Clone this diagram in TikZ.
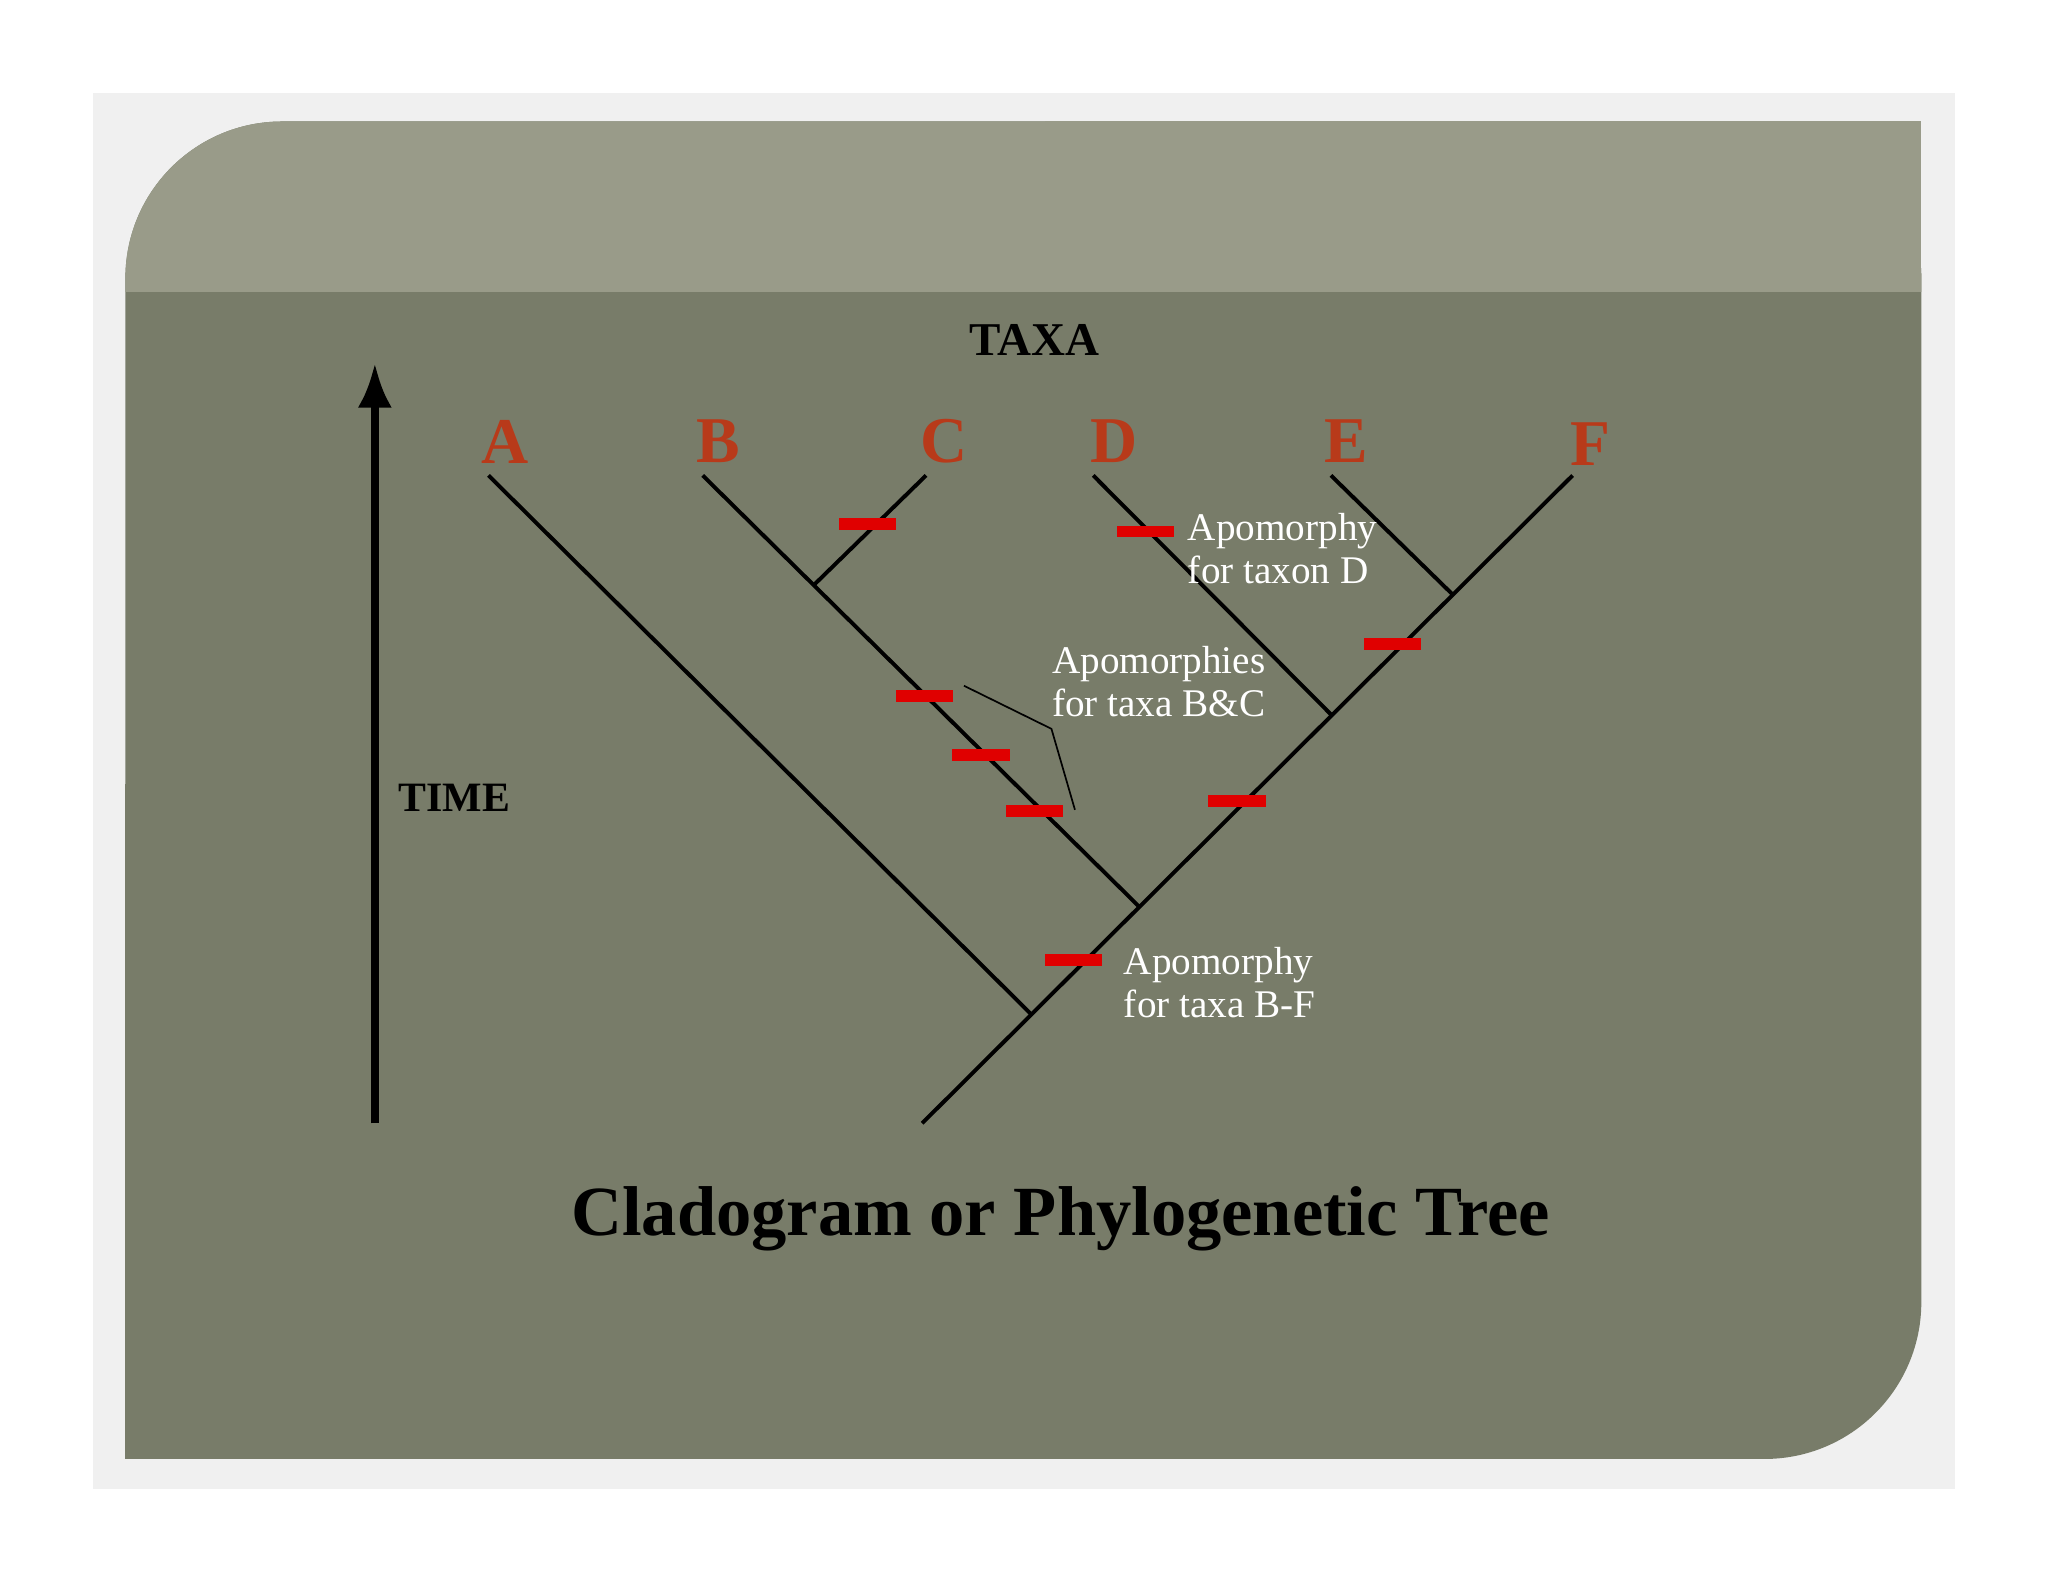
\documentclass[tikz,border=0pt]{standalone}
\usepackage{fontspec}
\setmainfont{Liberation Serif}
\usetikzlibrary{arrows.meta}
\definecolor{bgdark}{HTML}{787C69}
\definecolor{bgtop}{HTML}{999B89}
\definecolor{frame}{HTML}{F0F0F0}
\definecolor{taxred}{HTML}{B83A1A}
\definecolor{bar}{HTML}{E00000}
\tikzset{
 branch/.style={line width=3pt,black},
 taxon/.style={text=taxred,font=\fontsize{50}{50}\selectfont\bfseries},
 lab/.style={text=white,align=left,anchor=west,font=\fontsize{30}{33}\selectfont},
 redbar/.style={fill=bar,draw=none,minimum width=44pt,minimum height=9pt,inner sep=0pt},
 heading/.style={font=\fontsize{32}{32}\selectfont\bfseries}
}
\begin{document}
\begin{tikzpicture}[x=1pt,y=-1pt]
\useasboundingbox (0,0) rectangle (1568,1211);
\fill[white] (0,0) rectangle (1568,1211);
\fill[frame] (71,71) rectangle (1497,1140);
% panel: rounded top-left and bottom-right
\fill[bgdark,rounded corners=120pt] (96,93) rectangle (1471,1117);
\fill[bgdark] (96,600) rectangle (700,1117);
\fill[bgdark] (800,93) rectangle (1471,600);
\begin{scope}
\clip (0,0) rectangle (1568,223);
\fill[bgtop,rounded corners=120pt] (96,93) rectangle (1471,1117);
\fill[bgtop] (800,93) rectangle (1471,223);
\end{scope}
% time arrow
\coordinate (t0) at (287,860); \coordinate (t1) at (287,278);
\draw[line width=6pt,-{Latex[length=34pt,width=26pt]}] (t0) -- (t1);
\node[heading] (time) at (348,611) {TIME};
\node[heading,font=\fontsize{36}{36}\selectfont\bfseries] (taxa) at (792,260) {TAXA};
% taxa
\node[taxon] (A) at (387,338) {A};
\node[taxon] (B) at (550,338) {B};
\node[taxon] (C) at (723,338) {C};
\node[taxon] (D) at (853,338) {D};
\node[taxon] (E) at (1031,338) {E};
\node[taxon] (F) at (1218,340) {F};
% tree
\coordinate (a) at (374,364); \coordinate (na) at (789,776);
\coordinate (root) at (706,860); \coordinate (f) at (1204,364);
\coordinate (b) at (538,364); \coordinate (nb) at (872,694);
\coordinate (c) at (709,364); \coordinate (nc) at (623,448);
\coordinate (d) at (837,364); \coordinate (nd) at (1019,547);
\coordinate (e) at (1019,364); \coordinate (ne) at (1112,455);
\draw[branch] (a) -- (na);
\draw[branch] (root) -- (f);
\draw[branch] (b) -- (nb);
\draw[branch] (c) -- (nc);
\draw[branch] (d) -- (nd);
\draw[branch] (e) -- (ne);
% bars
\node[redbar] (r1) at (664,401) {};
\node[redbar] (r2) at (877,407) {};
\node[redbar] (r3) at (1066,493) {};
\node[redbar] (r4) at (708,533) {};
\node[redbar] (r5) at (751,578) {};
\node[redbar] (r6) at (792,621) {};
\node[redbar] (r7) at (947,613) {};
\node[redbar] (r8) at (822,735) {};
% callout
\coordinate (k0) at (738,525); \coordinate (k1) at (805,558); \coordinate (k2) at (823,620);
\draw[line width=1.3pt] (k0) -- (k1) -- (k2);
% labels
\node[lab] (l1) at (906,420) {Apomorphy\\for taxon D};
\node[lab] (l2) at (802,522) {Apomorphies\\for taxa B\&C};
\node[lab] (l3) at (857,752) {Apomorphy\\for taxa B-F};
\node[font=\fontsize{54}{54}\selectfont\bfseries] (title) at (812,933) {Cladogram or Phylogenetic Tree};
\end{tikzpicture}
\end{document}
